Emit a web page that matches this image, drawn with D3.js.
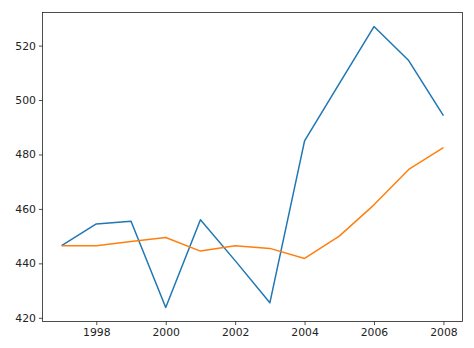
<!DOCTYPE html>
<html>
<head>
<meta charset="utf-8">
<script src="https://cdn.jsdelivr.net/npm/d3@7"></script>
<style>
  body { margin: 0; background: white; }
  svg { display: block; }
</style>
</head>
<body>
<svg id="chart" width="474" height="348"></svg>
<script>
const years = [1997, 1998, 1999, 2000, 2001, 2002, 2003, 2004, 2005, 2006, 2007, 2008];
const blue_values = [446.5, 454.5, 455.5, 423.8, 456, 441, 425.5, 485, 506, 527, 514.5, 494.3];
const orange_values = [446.5, 446.5, 448, 449.5, 444.5, 446.5, 445.5, 441.8, 450, 461.5, 474.5, 482.5];
const x_ticks = [1998, 2000, 2002, 2004, 2006, 2008];
const y_ticks = [420, 440, 460, 480, 500, 520];

const area = { left: 42.5, top: 12.5, right: 462.5, bottom: 321.5 };

const svg = d3.select('#chart');

// matplotlib-like 5% margins
const x_min = d3.min(years), x_max = d3.max(years);
const x_pad = (x_max - x_min) * 0.05;
const all_values = blue_values.concat(orange_values);
const y_min = d3.min(all_values), y_max = d3.max(all_values);
const y_pad = (y_max - y_min) * 0.05;

const x_scale = d3.scaleLinear()
  .domain([x_min - x_pad, x_max + x_pad])
  .range([area.left, area.right]);
const y_scale = d3.scaleLinear()
  .domain([y_min - y_pad, y_max + y_pad])
  .range([area.bottom, area.top]);

const x_axis = d3.axisBottom(x_scale)
  .tickValues(x_ticks)
  .tickFormat(d3.format('d'))
  .tickSizeInner(3.6)
  .tickSizeOuter(0)
  .tickPadding(3);
const y_axis = d3.axisLeft(y_scale)
  .tickValues(y_ticks)
  .tickSizeInner(3.6)
  .tickSizeOuter(0)
  .tickPadding(3);

svg.append('g')
  .attr('transform', `translate(0, ${area.bottom})`)
  .call(x_axis);
svg.append('g')
  .attr('transform', `translate(${area.left}, 0)`)
  .call(y_axis);

svg.selectAll('.domain').remove();
svg.selectAll('.tick line').attr('stroke', '#222').attr('stroke-width', 0.8);
svg.selectAll('.tick text')
  .attr('fill', '#222')
  .style('font-family', 'DejaVu Sans')
  .style('font-size', '10.8px');

const line = d3.line()
  .x((d, i) => x_scale(years[i]))
  .y(d => y_scale(d));

svg.append('path')
  .datum(blue_values)
  .attr('d', line)
  .attr('fill', 'none')
  .attr('stroke', '#1f77b4')
  .attr('stroke-width', 1.5)
  .attr('stroke-linejoin', 'round');

svg.append('path')
  .datum(orange_values)
  .attr('d', line)
  .attr('fill', 'none')
  .attr('stroke', '#ff7f0e')
  .attr('stroke-width', 1.5)
  .attr('stroke-linejoin', 'round');

// frame
svg.append('rect')
  .attr('x', area.left)
  .attr('y', area.top)
  .attr('width', area.right - area.left)
  .attr('height', area.bottom - area.top)
  .attr('fill', 'none')
  .attr('stroke', '#222')
  .attr('stroke-width', 0.8);
</script>
</body>
</html>
